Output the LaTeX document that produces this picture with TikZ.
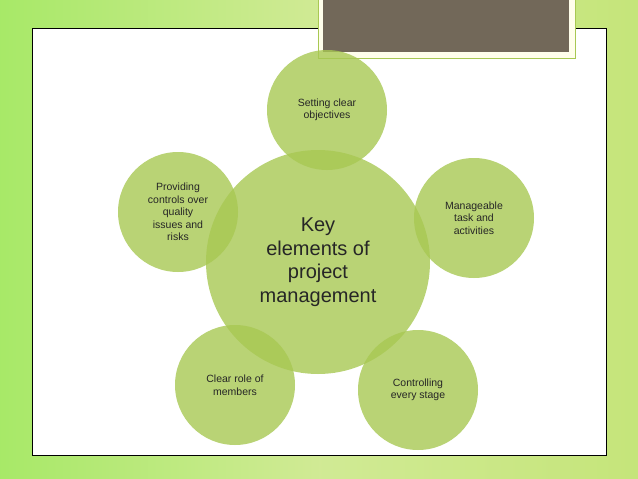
\documentclass[tikz,border=0pt]{standalone}
\usepackage{fontspec}
\setmainfont{Liberation Sans}
\definecolor{bubg}{HTML}{A8C853}
\definecolor{bgg}{HTML}{C5E57A}
\definecolor{slate}{HTML}{726859}
\begin{document}
\begin{tikzpicture}[x=1pt,y=-1pt,
  bub/.style={circle,fill=bubg,fill opacity=0.8,text opacity=1,minimum size=120pt,inner sep=0pt,align=center,font=\fontsize{10.5}{12.5}\selectfont,text=black!85},
  big/.style={bub,minimum size=224pt,font=\fontsize{20}{23.5}\selectfont}]
\useasboundingbox (0,0) rectangle (638,479);
\shade[left color=bgg!85!green, right color=bgg, middle color=bgg!80!white] (0,0) rectangle (638,479);
\draw[fill=white,line width=0.8pt] (32,28) rectangle (606,455);
\draw[draw=bubg,fill=white!92!yellow] (318,-2) rectangle (575,58);
\fill[slate] (323,-2) rectangle (569,52);
\node[big] (c) at (318,262) {Key\\elements of\\project\\management};
\node[bub] (t) at (327,110) {Setting clear\\objectives};
\node[bub] (r) at (474,218) {Manageable\\task and\\activities};
\node[bub] (br) at (418,390) {Controlling\\every stage};
\node[bub] (bl) at (235,385) {Clear role of\\members};
\node[bub] (l) at (178,212) {Providing\\controls over\\quality\\issues and\\risks};
\end{tikzpicture}
\end{document}
